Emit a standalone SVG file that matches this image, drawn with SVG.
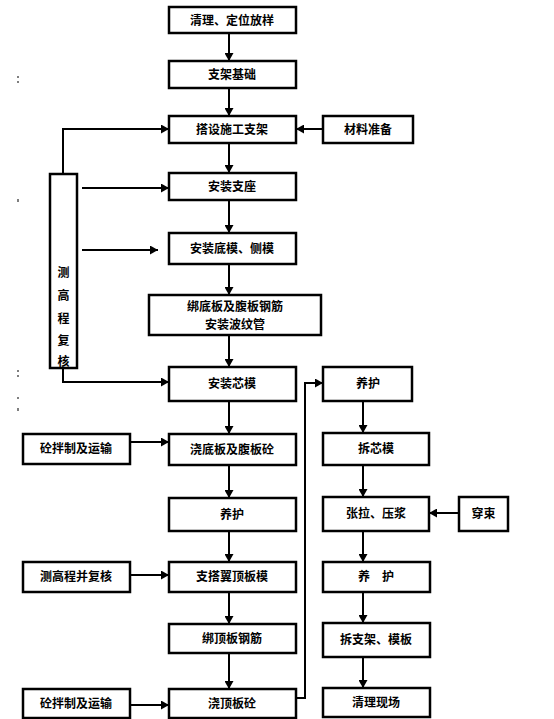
<svg xmlns="http://www.w3.org/2000/svg" width="554" height="719" viewBox="0 0 554 719">
<defs>
<marker id="ah" markerUnits="userSpaceOnUse" markerWidth="9" markerHeight="9" refX="8" refY="4.5" orient="auto">
<path d="M0,0 L8,4.5 L0,9 Z" fill="#000"/>
</marker>
<style>
.b{fill:#fff;stroke:#000;stroke-width:2.5}
.t{font-family:"Noto Sans CJK SC","Liberation Sans",sans-serif;font-size:12px;font-weight:bold;fill:#000;text-anchor:middle}
.c{fill:none;stroke:#000;stroke-width:2;marker-end:url(#ah)}
.l{fill:none;stroke:#000;stroke-width:2}
</style>
</defs>
<rect width="554" height="719" fill="#fff"/>
<g id="connectors">
<path class="c" d="M229,33 V61"/>
<path class="c" d="M229,88 V116"/>
<path class="c" d="M229,143 V173"/>
<path class="c" d="M229,200 V233"/>
<path class="c" d="M229,264 V295"/>
<path class="c" d="M229,335 V367"/>
<path class="c" d="M229,401 V434"/>
<path class="c" d="M229,465 V498"/>
<path class="c" d="M229,531 V562"/>
<path class="c" d="M229,592 V624"/>
<path class="c" d="M229,653 V689"/>
<path class="c" d="M363,401 V433"/>
<path class="c" d="M363,465 V497"/>
<path class="c" d="M363,531 V562"/>
<path class="c" d="M363,592 V623"/>
<path class="c" d="M363,657 V688"/>
<path class="c" d="M323,129 H296"/>
<path class="c" d="M63,174 V129 H169"/>
<path class="c" d="M82,188 H169"/>
<path class="c" d="M82,250 H158"/>
<path class="c" d="M63,368 V382 H169"/>
<path class="c" d="M130,442 H169"/>
<path class="c" d="M130,575 H169"/>
<path class="c" d="M130,705 H169"/>
<path class="c" d="M296,698 H305 V383 H323"/>
<path class="c" d="M459,513 H429"/>
</g>
<g id="n1"><rect class="b" x="169" y="7" width="127" height="26"/><text class="t" x="232" y="25">清理、定位放样</text></g>
<g id="n2"><rect class="b" x="169" y="61" width="127" height="27"/><text class="t" x="232" y="79">支架基础</text></g>
<g id="n3"><rect class="b" x="169" y="116" width="127" height="27"/><text class="t" x="232" y="134">搭设施工支架</text></g>
<g id="n4"><rect class="b" x="323" y="116" width="90" height="27"/><text class="t" x="368" y="134">材料准备</text></g>
<g id="n5"><rect class="b" x="169" y="173" width="127" height="27"/><text class="t" x="232" y="191">安装支座</text></g>
<g id="n6"><rect class="b" x="169" y="233" width="127" height="31"/><text class="t" x="232" y="253">安装底模、侧模</text></g>
<g id="n7"><rect class="b" x="149" y="295" width="172" height="40"/><text class="t" x="235" y="311">绑底板及腹板钢筋</text><text class="t" x="235" y="329">安装波纹管</text></g>
<g id="n8"><rect class="b" x="50" y="174" width="27" height="194"/>
<text class="t" x="63.5" y="277">测</text><text class="t" x="63.5" y="300">高</text><text class="t" x="63.5" y="323">程</text><text class="t" x="63.5" y="345">复</text><text class="t" x="63.5" y="366">核</text></g>
<g id="n9"><rect class="b" x="169" y="367" width="127" height="34"/><text class="t" x="232" y="388">安装芯模</text></g>
<g id="n10"><rect class="b" x="23" y="434" width="107" height="30"/><text class="t" x="76" y="453">砼拌制及运输</text></g>
<g id="n11"><rect class="b" x="169" y="434" width="127" height="31"/><text class="t" x="232" y="454">浇底板及腹板砼</text></g>
<g id="n12"><rect class="b" x="169" y="498" width="127" height="33"/><text class="t" x="232" y="519">养护</text></g>
<g id="n13"><rect class="b" x="23" y="562" width="107" height="30"/><text class="t" x="76" y="581">测高程并复核</text></g>
<g id="n14"><rect class="b" x="169" y="562" width="127" height="30"/><text class="t" x="232" y="581">支搭翼顶板模</text></g>
<g id="n15"><rect class="b" x="169" y="624" width="127" height="29"/><text class="t" x="232" y="643">绑顶板钢筋</text></g>
<g id="n16"><rect class="b" x="23" y="689" width="107" height="29"/><text class="t" x="76" y="708">砼拌制及运输</text></g>
<g id="n17"><rect class="b" x="169" y="689" width="127" height="29"/><text class="t" x="232" y="708">浇顶板砼</text></g>
<g id="n18"><rect class="b" x="323" y="367" width="89" height="34"/><text class="t" x="368" y="388">养护</text></g>
<g id="n19"><rect class="b" x="323" y="433" width="106" height="32"/><text class="t" x="376" y="453">拆芯模</text></g>
<g id="n20"><rect class="b" x="323" y="497" width="106" height="34"/><text class="t" x="376" y="518">张拉、压浆</text></g>
<g id="n21"><rect class="b" x="459" y="497" width="49" height="34"/><text class="t" x="483.5" y="518">穿束</text></g>
<g id="n22"><rect class="b" x="323" y="562" width="107" height="30"/><text class="t" x="376" y="581">养　护</text></g>
<g id="n23"><rect class="b" x="323" y="623" width="107" height="34"/><text class="t" x="376" y="644">拆支架、模板</text></g>
<g id="n24"><rect class="b" x="323" y="688" width="107" height="29"/><text class="t" x="376" y="707">清理现场</text></g>
<g id="marks" fill="#000">
<rect x="17.5" y="76" width="1" height="2"/><rect x="17.5" y="81" width="1" height="2"/>
<rect x="17.5" y="199" width="1" height="3"/>
<rect x="17.5" y="370" width="1" height="2"/><rect x="17.5" y="375" width="1" height="2"/>
<rect x="17.5" y="397" width="1" height="2"/><rect x="17.5" y="408" width="1" height="3"/>
</g>
</svg>
